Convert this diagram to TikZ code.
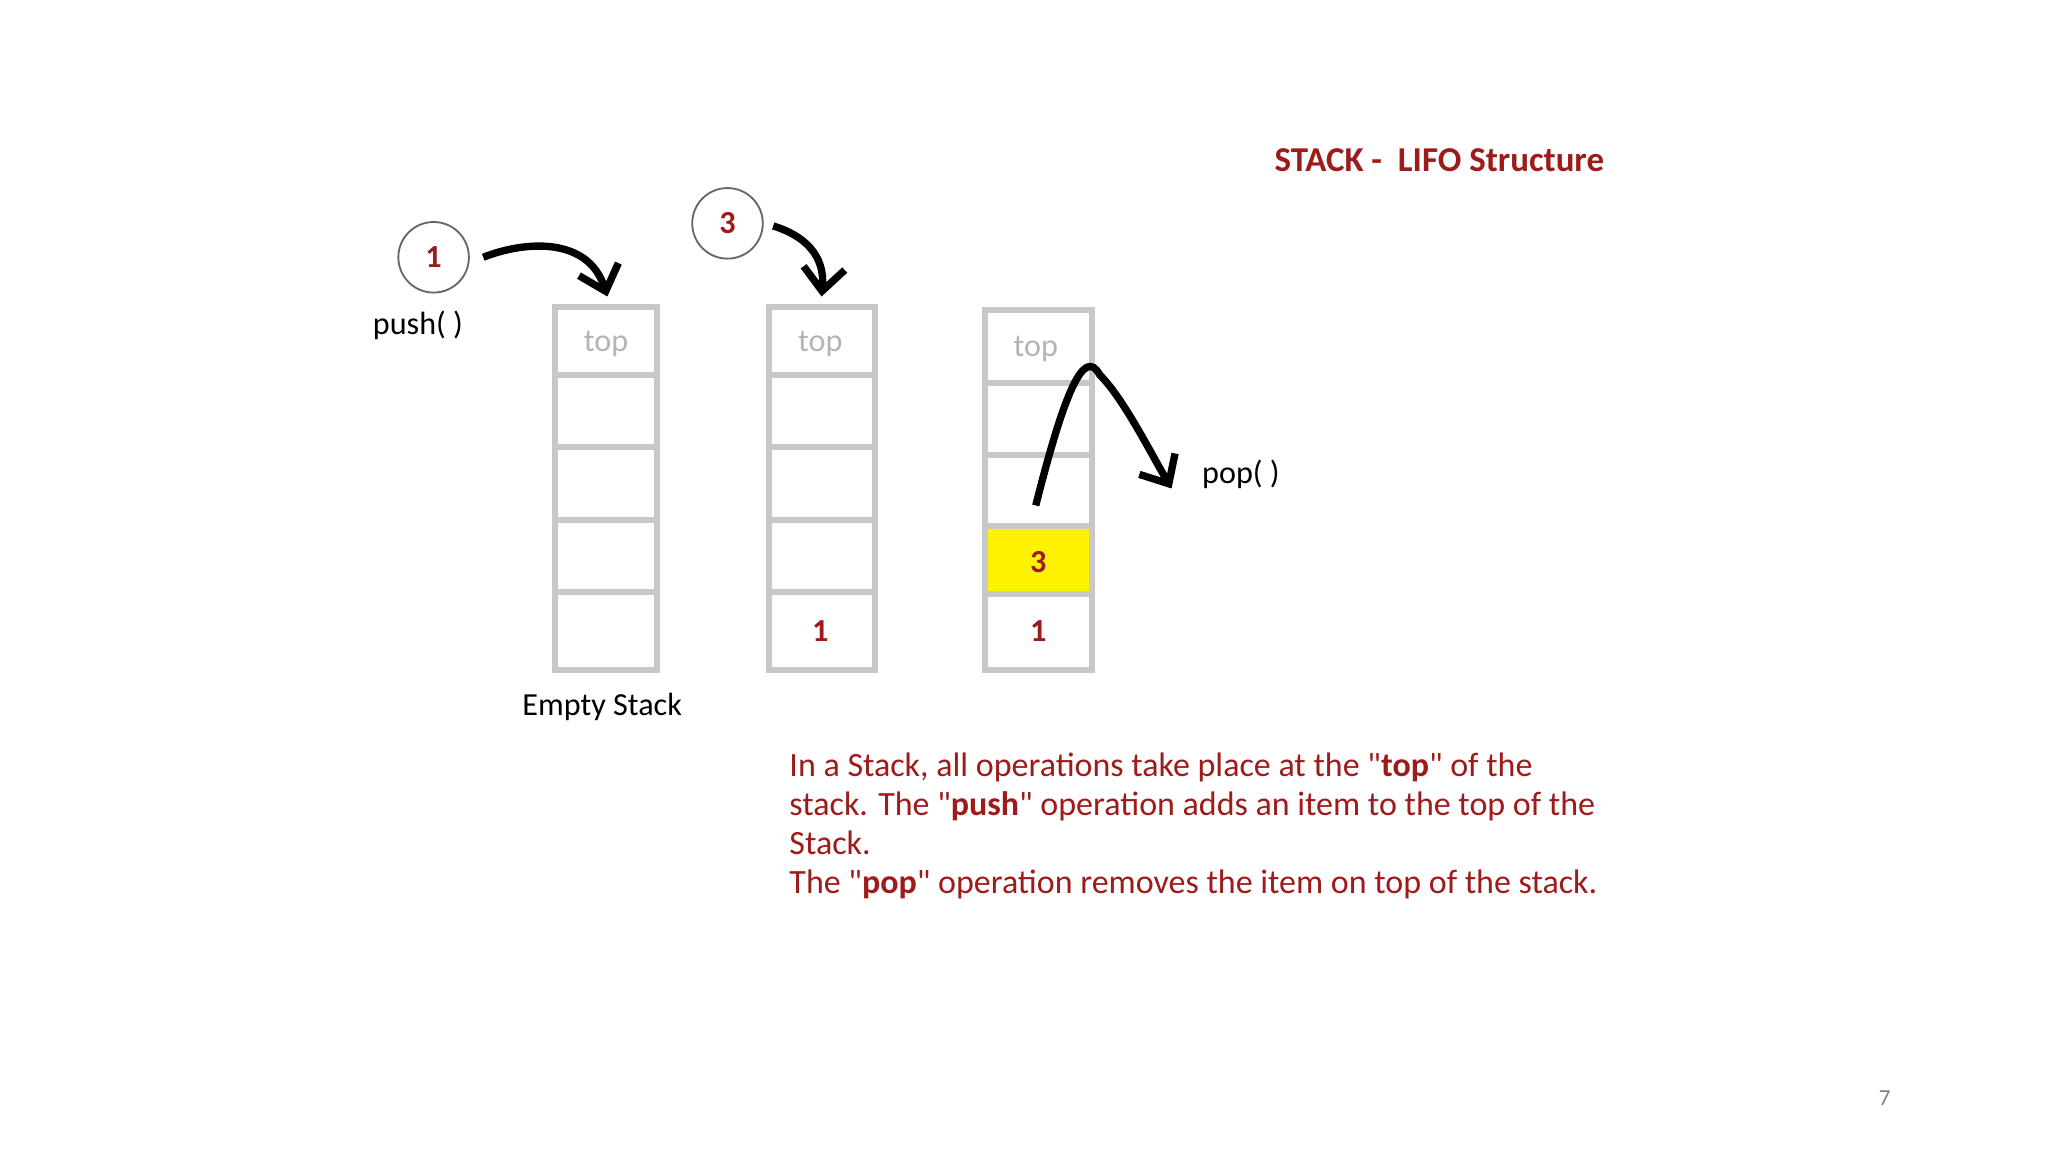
\documentclass[tikz,border=0pt]{standalone}
\usepackage{fontspec}
\setmainfont{Carlito}[Ligatures=TeXOff]
\usetikzlibrary{arrows.meta}
\definecolor{dred}{HTML}{9E1B1B}
\definecolor{cellgray}{HTML}{C8C8C8}
\definecolor{topgray}{HTML}{B4B4B4}
\begin{document}
\begin{tikzpicture}[x=0.01cm,y=-0.01cm,
  cellbox/.style={draw=cellgray,line width=1.3pt,fill=white},
  num/.style={text=dred,font=\fontsize{7}{8}\selectfont\bfseries},
  toptxt/.style={text=topgray,font=\fontsize{7}{8}\selectfont},
  lbl/.style={font=\fontsize{7}{8}\selectfont},
  circ/.style={draw=black!60,circle,line width=0.4pt,minimum size=0.54cm,inner sep=0pt},
  harrow/.style={line width=1.6pt,-{Straight Barb[length=5pt,width=9pt,line width=1.6pt]}}]
\useasboundingbox (0,0) rectangle (1568,882);
% stack 1
\foreach \a/\b in {235/287,287/342,342/398,398/453,453/513}
  \draw[cellbox] (425,\a) rectangle (503,\b);
\node[toptxt] (s1top) at (464,263) {top};
% stack 2
\foreach \a/\b in {235/287,287/342,342/398,398/453,453/513}
  \draw[cellbox] (589,\a) rectangle (670,\b);
\node[toptxt] (s2top) at (628,263) {top};
\node[num] (s2one) at (628,483) {1};
% stack 3
\foreach \a/\b in {237/293,293/348,348/403,455/513}
  \draw[cellbox] (754,\a) rectangle (836,\b);
\draw[cellbox,fill=yellow] (754,403) rectangle (836,455);
\node[toptxt] (s3top) at (793,267) {top};
\node[num] (s3three) at (795,430) {3};
\node[num] (s3one) at (795,483) {1};
% circles
\node[circ,num] (c1) at (332,197) {1};
\node[circ,num] (c3) at (557,171) {3};
\node[lbl] (push) at (320,249) {push( )};
\node[lbl] (empty) at (461,541) {Empty Stack};
\node[lbl,anchor=west] (pop) at (908,363) {pop( )};
% arrows
\coordinate (a1s) at (370,197);
\coordinate (a1e) at (465,227);
\draw[harrow] (a1s) .. controls (400,185) and (450,180) .. (a1e);
\coordinate (a2s) at (592,173);
\coordinate (a2e) at (629,227);
\draw[harrow] (a2s) .. controls (615,180) and (632,195) .. (a2e);
\coordinate (ps) at (793,387);
\coordinate (pe) at (897,374);
\draw[harrow] (ps) .. controls (815,300) and (830,265) .. (842,287) .. controls (860,305) and (880,345) .. (pe);
% title and text
\node[text=dred,font=\fontsize{7.6}{9}\selectfont\bfseries] (title) at (1102,123) {STACK -\ \ LIFO Structure};
\node[text=dred,anchor=north west,align=left,font=\fontsize{7.4}{8.5}\selectfont] (para) at (592,564)
{In a Stack, all operations take place at the "\textbf{top}" of the\\
stack. The "\textbf{push}" operation adds an item to the top of the\\
Stack.\\
The "\textbf{pop}" operation removes the item on top of the stack.};
\node[text=gray,font=\fontsize{5}{6}\selectfont] (pg) at (1443,841) {7};
\end{tikzpicture}
\end{document}
